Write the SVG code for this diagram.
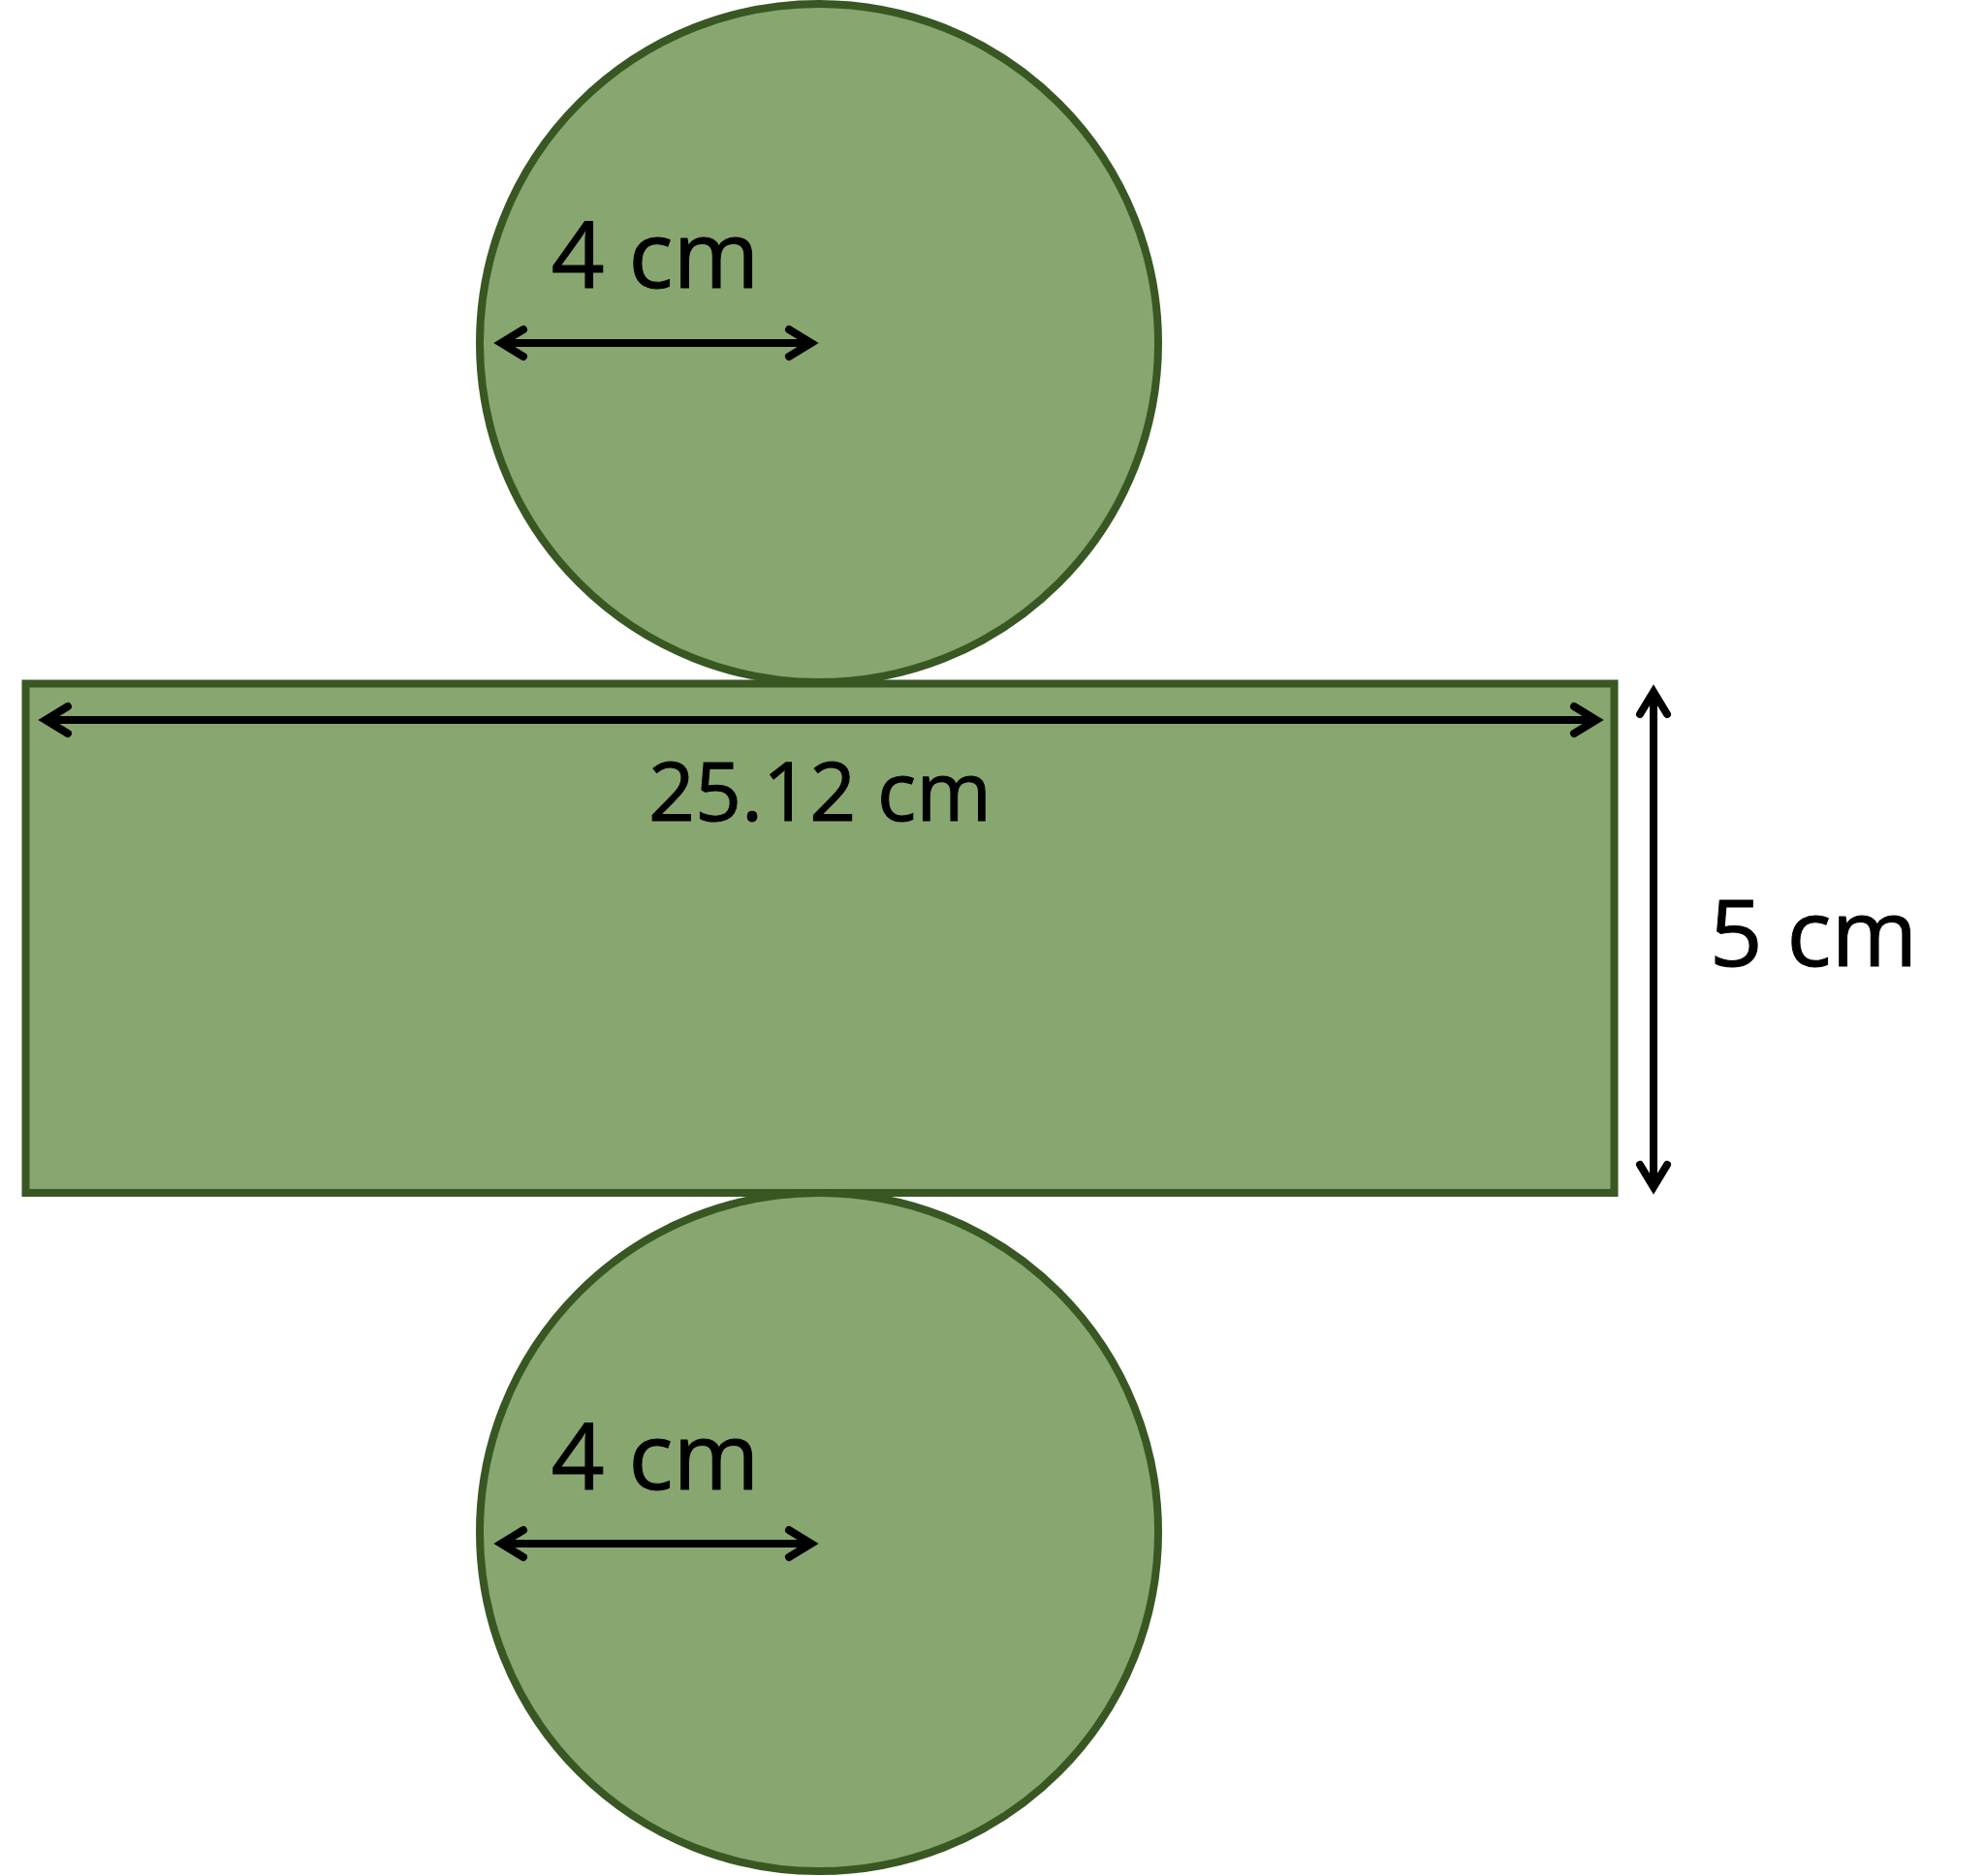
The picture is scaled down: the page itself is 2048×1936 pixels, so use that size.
<svg xmlns="http://www.w3.org/2000/svg" width="2048" height="1936" viewBox="0 0 2048 1936">
  <style>
    .shape { fill: #88A770; stroke: #385723; stroke-width: 8; }
    .dim { stroke: #000000; stroke-width: 8; fill: none; }
    .lbl { font-family: "Open Sans", "Noto Sans", "Liberation Sans", sans-serif; fill: #000000; stroke: #000000; stroke-width: 1; }
  </style>
  <defs>
    <marker id="chev" markerUnits="userSpaceOnUse" viewBox="-40 -30 50 60" refX="0" refY="0" markerWidth="50" markerHeight="60" orient="auto-start-reverse" overflow="visible">
      <path d="M -23 -14 L 0 0 L -23 14" fill="none" stroke="#000000" stroke-width="8" stroke-linecap="round" stroke-linejoin="miter"/>
    </marker>
  </defs>
  <rect width="2048" height="1936" fill="#FFFFFF"/>
  <g id="circle-top">
    <circle class="shape" cx="845" cy="354" r="350"/>
  </g>
  <g id="rectangle">
    <rect class="shape" x="26.5" y="705.5" width="1639" height="525.5"/>
  </g>
  <g id="circle-bottom">
    <circle class="shape" cx="845" cy="1581" r="350"/>
  </g>
  <g id="connectors">
    <line class="dim" x1="517" y1="354" x2="837" y2="354" marker-start="url(#chev)" marker-end="url(#chev)"/>
    <line class="dim" x1="47" y1="743" x2="1647" y2="743" marker-start="url(#chev)" marker-end="url(#chev)"/>
    <line class="dim" x1="1706" y1="714" x2="1706" y2="1225" marker-start="url(#chev)" marker-end="url(#chev)"/>
    <line class="dim" x1="517" y1="1593" x2="837" y2="1593" marker-start="url(#chev)" marker-end="url(#chev)"/>
  </g>
  <g id="labels">
    <text class="lbl" x="676" y="297" font-size="96" text-anchor="middle">4 cm</text>
    <text class="lbl" x="846" y="847" font-size="84" text-anchor="middle">25.12 cm</text>
    <text class="lbl" x="1871" y="997" font-size="96" text-anchor="middle">5 cm</text>
    <text class="lbl" x="676" y="1537" font-size="96" text-anchor="middle">4 cm</text>
  </g>
</svg>
